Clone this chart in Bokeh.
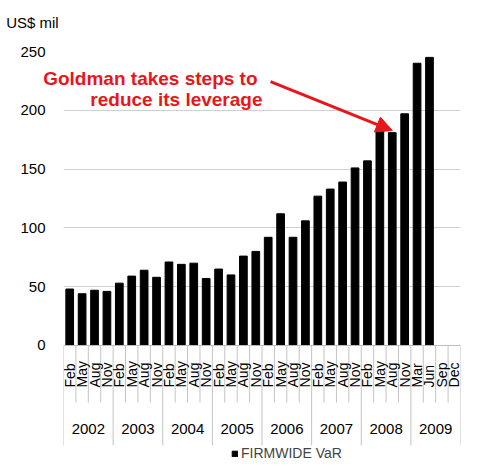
import numpy as np
from bokeh.plotting import figure
from bokeh.models import (FactorRange, Range1d, FixedTicker, Arrow,
                          NormalHead, ColumnDataSource)
from bokeh.core.properties import value
from bokeh.embed import file_html
from bokeh.resources import INLINE

# ---- data ----
years = ["2002", "2003", "2004", "2005", "2006", "2007", "2008", "2009"]
months_std = ["Feb", "May", "Aug", "Nov"]
months_2009 = ["Mar", "Jun", "Sep", "Dec"]
var_values = [48, 44, 47, 46,
              53, 59, 64, 58,
              71, 69, 70, 57,
              65, 60, 76, 80,
              92, 112, 92, 106,
              127, 133, 139, 151,
              157, 184, 181, 197,
              240, 245]
y_ticks = [0, 50, 100, 150, 200, 250]
series_name = "FIRMWIDE VaR"
unit_label = "US$ mil"
note_lines = ["Goldman takes steps to", "reduce its leverage"]

factors = [(y, m) for y in years for m in (months_2009 if y == "2009" else months_std)]
bar_factors = factors[:len(var_values)]

FONT = "Liberation Sans"
RED = "#e8161b"
GRID = "#cfcfcf"
SEP = "#c4c4c4"

# px per value unit = 294/250 ; frame extends below zero to hold the category labels
Y_MIN = -102.9

p = figure(frame_width=397, frame_height=415, output_backend="svg",
           toolbar_location=None,
           x_range=FactorRange(factors=factors, group_padding=0, range_padding=0),
           y_range=Range1d(Y_MIN, 250),
           min_border_left=63, min_border_right=22, min_border_top=51,
           min_border_bottom=8)
p.outline_line_color = None
p.background_fill_color = "white"

src = ColumnDataSource(dict(x=bar_factors, top=var_values))
p.vbar(x="x", top="top", width=0.62, source=src, color="black",
       legend_label=series_name)

# y axis
p.yaxis.ticker = FixedTicker(ticks=y_ticks)
p.yaxis.axis_line_color = None
p.yaxis.major_tick_line_color = None
p.yaxis.minor_tick_line_color = None
p.yaxis.major_label_standoff = 12
p.yaxis.major_label_text_font = FONT
p.yaxis.major_label_text_font_size = "15px"
p.yaxis.major_label_text_color = "black"
p.ygrid.ticker = FixedTicker(ticks=y_ticks[1:])
p.ygrid.grid_line_color = GRID
p.xgrid.grid_line_color = None
p.xaxis.visible = False

# category axis drawn inside the extended frame
n = len(factors)
p.segment(x0=[0], y0=[0], x1=[n], y1=[0], line_color="#bdbdbd", line_width=1)
bx = list(range(n + 1))
by1 = [-85 if i % 4 == 0 else -48.5 for i in bx]
p.segment(x0=bx, y0=[0] * len(bx), x1=bx, y1=by1, line_color=SEP, line_width=1)
p.text(x=factors, y=[-35.7] * n, text=[f[1] for f in factors], angle=np.pi / 2,
       text_align="left", text_baseline="middle", text_font=value(FONT),
       text_font_size="14px", text_color="black")
p.text(x=years, y=[-70.6] * len(years), text=years, text_align="center",
       text_baseline="middle", text_font=value(FONT), text_font_size="15px",
       text_color="black")

# legend
leg = p.legend[0]
leg.orientation = "horizontal"
leg.location = (168, 5)
leg.border_line_color = None
leg.background_fill_alpha = 0
leg.label_text_font = FONT
leg.label_text_font_size = "14px"
leg.label_height = 15
leg.glyph_width = 7
leg.glyph_height = 7
leg.label_standoff = 3
leg.padding = 0
leg.margin = 0

# unit label (overlay level so it can sit above/left of the plot area)
unit = p.text(x=[-4.62], y=[274.4], text=[unit_label], text_align="left",
              text_baseline="alphabetic", text_font=value(FONT),
              text_font_size="15px", text_color="black")
unit.level = "overlay"

# annotation (overlay level to draw beyond the plot's left edge)
note = p.text(x=[15.64, 16.04], y=[227, 209.5], text=note_lines,
              text_align="right", text_baseline="alphabetic",
              text_font=value(FONT), text_font_size="19px",
              text_font_style="bold", text_color=RED)
note.level = "overlay"
p.add_layout(Arrow(end=NormalHead(size=16, fill_color=RED, line_color=RED),
                   x_start=16.69, y_start=224.4, x_end=26.5, y_end=182.8,
                   line_color=RED, line_width=3))

open("out.html", "w").write(file_html(p, INLINE))
